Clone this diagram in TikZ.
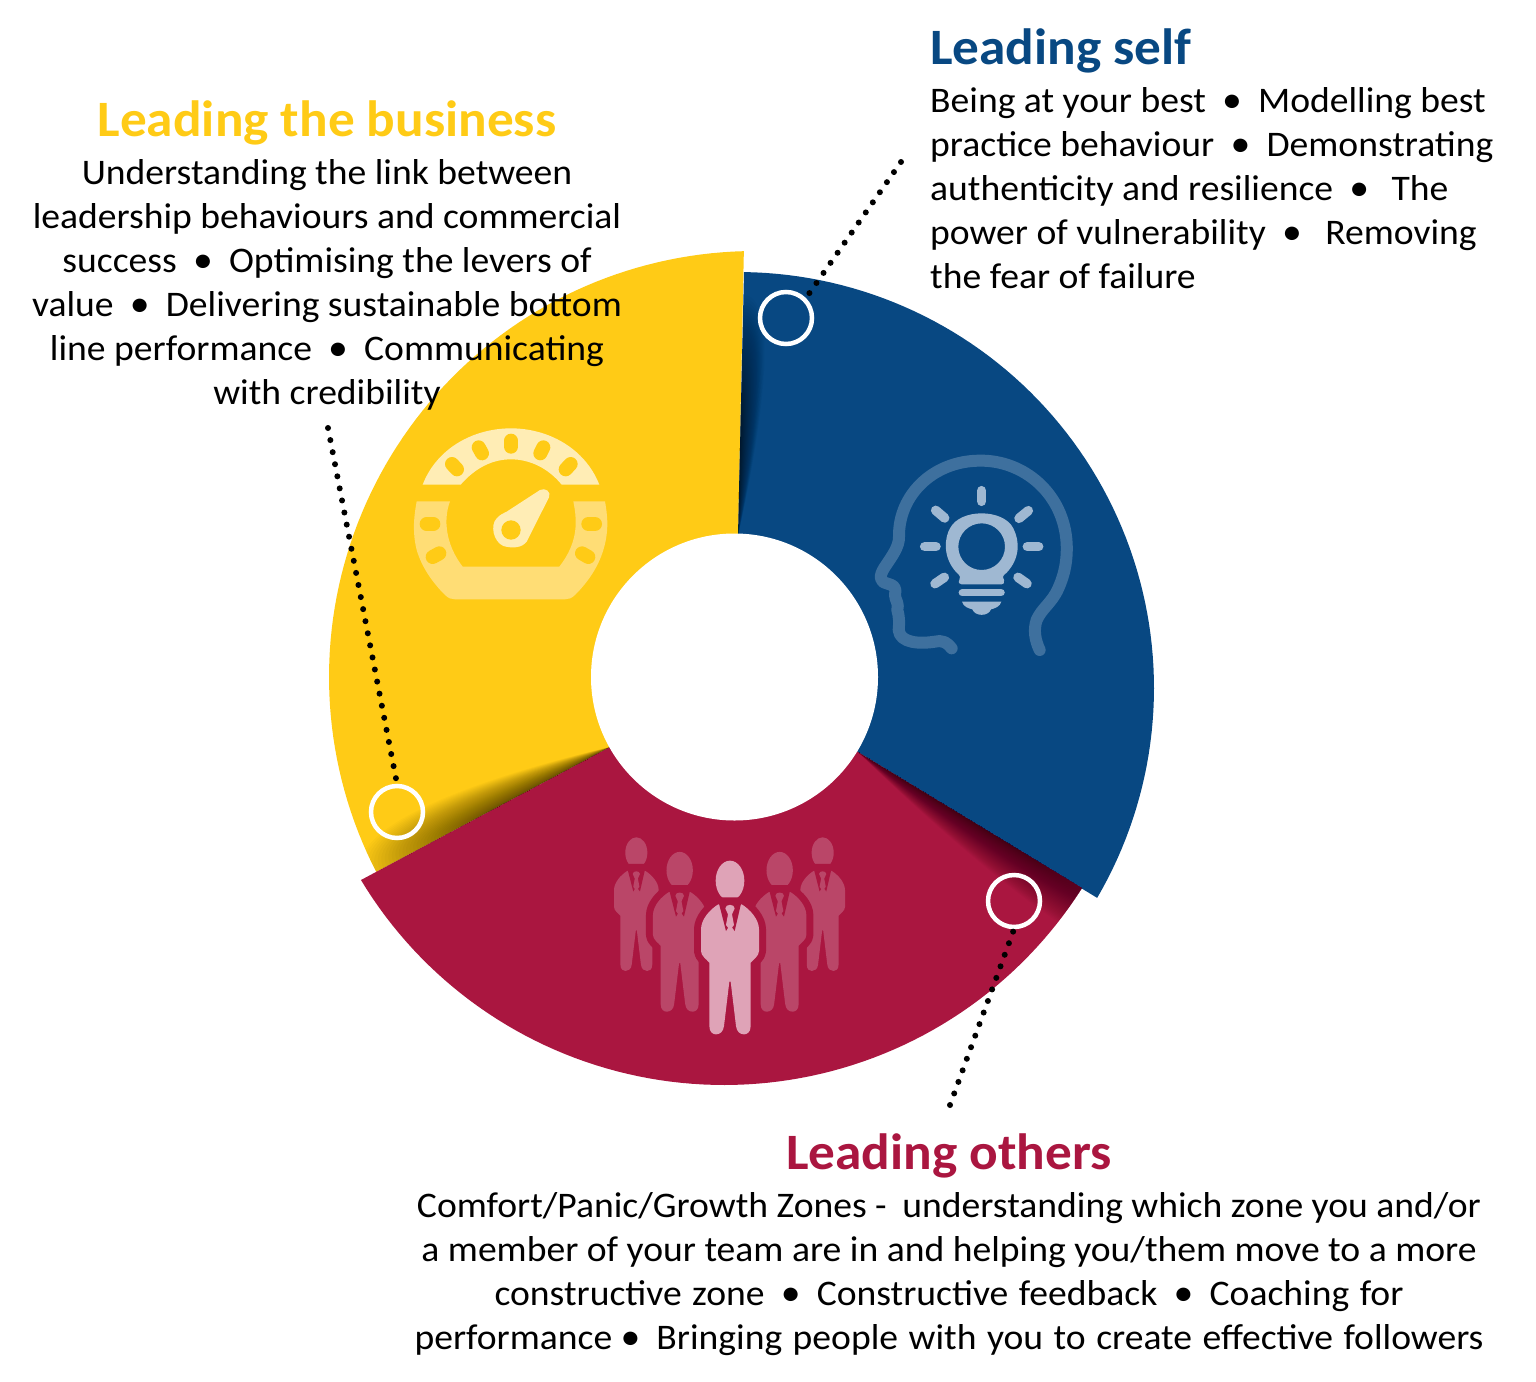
\documentclass[tikz,border=0pt]{standalone}
\usepackage{fontspec}
\setmainfont[FakeStretch=1.045]{Carlito}
\definecolor{cyel}{HTML}{FFCB16}
\definecolor{cblu}{HTML}{084882}
\definecolor{cred}{HTML}{AA1640}
\definecolor{gaugeA}{HTML}{FFEDB5}
\definecolor{gaugeB}{HTML}{FFDD75}
\definecolor{headc}{HTML}{3E709E}
\definecolor{bulbc}{HTML}{9FB8D2}
\definecolor{manA}{HTML}{DFA3B7}
\definecolor{manB}{HTML}{BA4668}
\newcommand{\bulgap}{\hspace{.45em}{\fontsize{38}{44}\selectfont\textbullet}\hspace{.45em}}
\tikzset{
  bodytxt/.style={inner sep=0pt,font=\fontsize{36}{44}\selectfont},
  titletxt/.style={inner sep=0pt,font=\fontsize{51}{58}\selectfont\bfseries},
  ring/.style={circle,draw=white,line width=4.5pt,minimum size=52pt,inner sep=0pt},
  dots/.style={line width=6pt,line cap=round,dash pattern=on 0pt off 12.3pt},
  gap/.style={cyel,line width=14pt,line cap=round},
  ray/.style={bulbc,line width=9.5pt,line cap=round},
  halo/.style={fill=#1,preaction={draw=cred,line width=14pt,line join=round}},
}
% nested contours make a soft shadow: apex x,y; edge direction dx,dy; width; length
\newcommand{\softshade}[6]{%
  \foreach \k in {1,...,40}{%
    \pgfmathsetmacro{\t}{\k/40}
    \pgfmathsetmacro{\ln}{#6*(0.45+0.55*\t)}
    \pgfmathsetmacro{\wd}{#5*pow(\t,1.5)}
    \pgfmathsetmacro{\ax}{#1+\ln*#3}
    \pgfmathsetmacro{\ay}{#2+\ln*#4}
    \pgfmathsetmacro{\bx}{#1+0.5*\ln*#3-1.1*\wd*#4}
    \pgfmathsetmacro{\by}{#2+0.5*\ln*#4+1.1*\wd*#3}
    \pgfmathsetmacro{\cx}{#1+1.0*\ln*#3-1.6*\wd*#4}
    \pgfmathsetmacro{\cy}{#2+1.0*\ln*#4+1.6*\wd*#3}
    \fill[black,opacity=0.021] (#1,#2) .. controls (\bx,\by) and (\cx,\cy) .. (\ax,\ay) -- cycle;
  }%
}
\newcommand{\person}[4]{% x, bottom y, scale, colour
  \begin{scope}[shift={(#1,#2)},scale=#3]
    \path[halo=#4] (0,-461) ellipse[x radius=43,y radius=60];
    \path[halo=#4]
      (-35,-390) .. controls (-60,-375) and (-87,-345) .. (-87,-315)
      -- (-87,-250) .. controls (-87,-235) and (-70,-225) .. (-62,-215)
      -- (-62,-25) .. controls (-62,-5) and (-50,0) .. (-42,0)
      .. controls (-30,0) and (-20,-8) .. (-18,-25)
      -- (-2,-158) -- (2,-158) -- (18,-25)
      .. controls (20,-8) and (30,0) .. (42,0)
      .. controls (50,0) and (62,-5) .. (62,-25)
      -- (62,-215) .. controls (70,-225) and (87,-235) .. (87,-250)
      -- (87,-315) .. controls (87,-345) and (60,-375) .. (35,-390) -- cycle;
    \fill[cred] (-33,-392) -- (-12,-310) -- (0,-330) -- (14,-310) -- (33,-392) -- cycle;
    \fill[#4] (-14,-378) .. controls (-14,-392) and (14,-392) .. (14,-378)
      -- (6,-360) -- (12,-328) -- (0,-312) -- (-12,-328) -- (-6,-360) -- cycle;
  \end{scope}%
}
\begin{document}
\begin{tikzpicture}[x=1pt,y=-1pt]
\useasboundingbox (0,0) rectangle (1536,1381);
% sectors
\fill[cblu] (735,677) -- (738,535) -- (744,272)
  -- plot[domain=-89.2:30.3,samples=80] ({738+416*cos(\x)},{688+416*sin(\x)})
  -- (858,752) -- cycle;
\fill[cyel] (735,677) -- (610,747) -- (376,872)
  -- plot[domain=152.8:268.5,samples=80] ({755+426*cos(\x)},{677+426*sin(\x)})
  -- (738,535) -- cycle;
\fill[cred] (735,677) -- (858,752) -- (1082,888)
  -- plot[domain=32.4:148.9,samples=80] ({724+424*cos(\x)},{661+424*sin(\x)})
  -- (610,747) -- cycle;
% soft shadows
\begin{scope}
  \clip (738,535) -- (744,272)
   -- plot[domain=-89.2:30.3,samples=40] ({738+416*cos(\x)},{688+416*sin(\x)}) -- (858,752) -- cycle;
  \softshade{738}{535}{0.0228}{-0.9997}{22}{240}
\end{scope}
\begin{scope}
  \clip (610,747) -- (376,872)
   -- plot[domain=152.8:268.5,samples=40] ({755+426*cos(\x)},{677+426*sin(\x)}) -- (738,535) -- cycle;
  \softshade{610}{747}{-0.882}{0.471}{34}{280}
\end{scope}
\begin{scope}
  \clip (858,752) -- (1082,888)
   -- plot[domain=32.4:148.9,samples=40] ({724+424*cos(\x)},{661+424*sin(\x)}) -- (610,747) -- cycle;
  \softshade{858}{752}{0.855}{0.519}{42}{400}
\end{scope}
\fill[white] (734.5,677) circle[radius=143.5];
% gauge icon
\begin{scope}[shift={(400,410)},scale=1/3]
  \fill[gaugeA] (68,224) .. controls (110,115) and (220,55) .. (333,55)
     .. controls (445,55) and (555,115) .. (598,224) -- (485,224)
     .. controls (445,175) and (390,148) .. (333,148)
     .. controls (275,148) and (225,175) .. (182,224) -- cycle;
  \fill[gaugeB] (50,274) -- (150,274) .. controls (140,300) and (138,330) .. (140,350)
     .. controls (144,400) and (165,440) .. (188,470) -- (478,470)
     .. controls (505,435) and (525,395) .. (527,345)
     .. controls (528,320) and (525,300) .. (520,274) -- (615,274)
     .. controls (625,330) and (625,370) .. (610,420)
     .. controls (595,470) and (565,515) .. (525,555)
     .. controls (515,565) and (505,568) .. (495,568) -- (165,568)
     .. controls (155,568) and (145,565) .. (135,555)
     .. controls (95,515) and (65,470) .. (50,420)
     .. controls (38,370) and (40,330) .. (50,274) -- cycle;
  \draw[gap] (333,92) -- (333,110);
  \draw[gap] (236,112) -- (246,130);
  \draw[gap] (430,112) -- (421,130);
  \draw[gap] (156,162) -- (171,178);
  \draw[gap] (512,162) -- (497,178);
  \draw[gap] (80,342) -- (100,342);
  \draw[gap] (565,342) -- (585,342);
  \draw[gap] (98,441) -- (118,430);
  \draw[gap] (565,441) -- (546,430);
  \fill[gaugeA] (320,305) -- (420,240) .. controls (435,232) and (455,245) .. (447,262)
     -- (380,395) .. controls (365,415) and (335,415) .. (310,408)
     .. controls (280,395) and (270,345) .. (290,325) .. controls (298,315) and (310,310) .. (320,305) -- cycle;
  \fill[cyel] (333,360) circle[radius=29];
\end{scope}
% head and bulb icon
\begin{scope}[shift={(860,440)},scale=1/3]
  \draw[headc,line width=12pt,line join=round,line cap=round]
    (539,630) .. controls (525,600) and (520,570) .. (530,540)
    .. controls (545,505) and (575,490) .. (595,445)
    .. controls (615,400) and (622,360) .. (620,310)
    .. controls (612,160) and (490,60) .. (360,62)
    .. controls (220,62) and (115,165) .. (117,290)
    .. controls (118,320) and (95,350) .. (75,380)
    .. controls (55,410) and (60,425) .. (80,430)
    .. controls (105,438) and (108,440) .. (105,465)
    .. controls (105,480) and (118,490) .. (112,510)
    .. controls (118,530) and (118,550) .. (116,570)
    .. controls (120,610) and (180,612) .. (225,605)
    .. controls (250,600) and (262,608) .. (275,625);
  \fill[bulbc,even odd rule] (365,320) circle[radius=70]
     (290,398) .. controls (245,350) and (255,290) .. (270,265)
     .. controls (300,205) and (430,205) .. (460,265)
     .. controls (480,305) and (480,355) .. (440,398)
     .. controls (425,408) and (428,415) .. (432,420)
     .. controls (436,428) and (430,433) .. (425,433)
     -- (305,433) .. controls (298,433) and (294,428) .. (298,420)
     .. controls (302,414) and (302,408) .. (290,398) -- cycle;
  \draw[bulbc,line width=7.5pt,line cap=round] (307,458) -- (423,458);
  \fill[bulbc] (306,485) -- (424,485) .. controls (420,500) and (405,505) .. (393,508)
     .. controls (385,530) and (345,530) .. (337,508) .. controls (325,505) and (310,500) .. (306,485) -- cycle;
  \draw[ray] (365,152) -- (365,184);
  \draw[ray] (227,211) -- (254,234);
  \draw[ray] (505,212) -- (477,235);
  \draw[ray] (194,320) -- (228,320);
  \draw[ray] (502,320) -- (536,320);
  \draw[ray] (253,412) -- (225,431);
  \draw[ray] (474,412) -- (501,431);
\end{scope}
% people icon
\begin{scope}[shift={(600,825)},scale=1/3]
  \person{109}{438}{0.77}{manB}
  \person{668}{438}{0.77}{manB}
  \person{239}{560}{0.92}{manB}
  \person{539}{560}{0.92}{manB}
  \person{390}{628}{1}{manA}
\end{scope}
% markers and leaders
\node[ring] (mself) at (786,318) {};
\node[ring] (mbiz) at (397,812) {};
\node[ring] (moth) at (1014,901) {};
\coordinate (eself) at (901,162);
\coordinate (ebiz) at (328,428);
\coordinate (eoth) at (950,1105);
\draw[dots] (eself) -- (mself.north east);
\draw[dots] (ebiz) -- (mbiz.north);
\draw[dots] (eoth) -- (moth.south);
% texts
\node[titletxt,text=cblu,anchor=west] (tself) at (930,51) {Leading self};
\node[bodytxt,anchor=west,align=left] (bself) at (930,188) {Being at your best\bulgap Modelling best\\
practice behaviour\bulgap Demonstrating\\
authenticity and resilience\bulgap\hspace{.17em}The\\
power of vulnerability\bulgap\hspace{.2em}Removing\\
the fear of failure};
\node[titletxt,text=cyel] (tbiz) at (327,123) {Leading the business};
\node[bodytxt,align=center] (bbiz) at (327,285) {Understanding the link between\\
leadership behaviours and commercial\\
success\bulgap Optimising the levers of\\
value\bulgap Delivering sustainable bottom\\
line performance\bulgap Communicating\\
with credibility};
\node[titletxt,text=cred] (toth) at (949,1156) {Leading others};
\node[bodytxt,align=center] (both) at (949,1274) {Comfort/Panic/Growth Zones -\hspace{.2em} understanding which zone you and/or\\
a member of your team are in and helping you/them move to a more\\
{\spaceskip=10.5pt constructive zone\bulgap Constructive feedback\bulgap Coaching for}\\
{\spaceskip=10.5pt performance\hspace{-.22em}\bulgap Bringing people with you to create effective followers}};
\end{tikzpicture}
\end{document}
